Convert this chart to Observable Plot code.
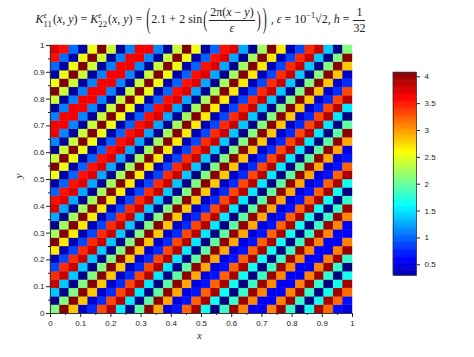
<!DOCTYPE html>
<html>
<head>
<meta charset="utf-8">
<script src="https://cdn.jsdelivr.net/npm/d3@7"></script>
<script src="https://cdn.jsdelivr.net/npm/@observablehq/plot@0.6"></script>
<style>
  html, body { margin: 0; padding: 0; background: #fff; }
  #wrap { position: relative; width: 474px; height: 357px; overflow: hidden; background: #fff; }
  #wrap svg { position: absolute; }
  #title { position: absolute; left: 0; top: 5px; width: 402px; text-align: center;
           font-family: "Liberation Serif", "DejaVu Serif", serif; font-size: 12px; color: #222; white-space: nowrap; }
  #title i { font-style: italic; }
  .ss { display: inline-block; vertical-align: -0.45em; font-size: 0.72em; line-height: 1.05; text-align: left; margin-right: 1px; }
  .ss span { display: block; }
  .frac { display: inline-flex; flex-direction: column; vertical-align: middle; text-align: center; line-height: 1.25; margin: 0 1px; }
  .frac span:first-child { border-bottom: 0.8px solid #222; padding: 0 1px; }
  .bigp { display: inline-block; transform: scale(1, 2.4); margin: 0 1px; }
  .midp { display: inline-block; transform: scale(1, 2.0); margin: 0 1px; }
  .axlab { position: absolute; font-family: "Liberation Serif", serif; font-style: italic; font-size: 11px; color: #333; }
</style>
</head>
<body>
<div id="wrap">
  <div id="title"><i>K</i><span class="ss"><span><i>ε</i></span><span>11</span></span>(<i>x</i>, <i>y</i>) = <i>K</i><span class="ss"><span><i>ε</i></span><span>22</span></span>(<i>x</i>, <i>y</i>) = <span class="bigp">(</span>2.1 + 2 sin<span class="midp">(</span><span class="frac"><span>2π(<i>x</i> − <i>y</i>)</span><span><i>ε</i></span></span><span class="midp">)</span><span class="bigp">)</span> , <i>ε</i> = 10<sup style="font-size:0.7em">−1</sup>√2, <i>h</i> = <span class="frac"><span>1</span><span>32</span></span></div>
  <div class="axlab" style="left:197px; top:329px;">x</div>
  <div class="axlab" style="left:16px; top:170px; transform: rotate(-90deg);">y</div>
</div>
<script>
// Grid: 32 x 32 cells on [0,1]^2 (h = 1/32)
const gridN = 32;
// Value of every cell on diagonal (column − row) = −31 … 31
const diagonalValues = [
  3.72, 3.55, 1.01, 0.25, 2.52, 4.10, 2.40, 0.21, 1.11, 3.63,
  3.64, 1.13, 0.20, 2.38, 4.10, 2.54, 0.26, 0.99, 3.54, 3.73,
  1.26, 0.16, 2.24, 4.09, 2.68, 0.32, 0.88, 3.43, 3.81, 1.39,
  0.13, 2.10, 4.07, 2.81, 0.39, 0.77, 3.32, 3.88, 1.52, 0.11,
  1.96, 4.04, 2.94, 0.47, 0.67, 3.21, 3.94, 1.66, 0.10, 1.82,
  4.00, 3.07, 0.56, 0.57, 3.09, 3.99, 1.80, 0.10, 1.68, 3.95,
  3.19, 0.65, 0.48
];
const axisTicks = [0, 0.1, 0.2, 0.3, 0.4, 0.5, 0.6, 0.7, 0.8, 0.9, 1];
const minorTicks = [0.05, 0.15, 0.25, 0.35, 0.45, 0.55, 0.65, 0.75, 0.85, 0.95];
const colorbarTicks = [0.5, 1, 1.5, 2, 2.5, 3, 3.5, 4];
// jet colormap stops
const jetDomain = [0.1, 0.6, 1.6, 2.6, 3.6, 4.1];
const jetColors = ["#00007f", "#0000ff", "#00ffff", "#ffff00", "#ff0000", "#7f0000"];

const cells = [];
for (let row = 0; row < gridN; row++) {
  for (let col = 0; col < gridN; col++) {
    cells.push({
      x1: col / gridN, x2: (col + 1) / gridN,
      y1: row / gridN, y2: (row + 1) / gridN,
      v: diagonalValues[col - row + gridN - 1]
    });
  }
}

const colorScale = { type: "linear", domain: jetDomain, range: jetColors, interpolate: "rgb" };
const axisStyle = { fontFamily: "'Liberation Sans', Arial, sans-serif", fontSize: "8px", color: "#222", background: "transparent" };

const main = Plot.plot({
  width: 474, height: 357,
  marginLeft: 50, marginRight: 122, marginTop: 45, marginBottom: 44,
  x: { domain: [0, 1], label: null },
  y: { domain: [0, 1], label: null },
  color: colorScale,
  style: axisStyle,
  marks: [
    Plot.rect(cells, { x1: "x1", x2: "x2", y1: "y1", y2: "y2", fill: "v", stroke: "v", strokeWidth: 0.4 }),
    Plot.axisX({ ticks: axisTicks, tickFormat: d => String(d), tickSize: 4, tickPadding: 3, label: null }),
    Plot.axisX({ ticks: minorTicks, tickSize: 2, text: null, label: null }),
    Plot.axisY({ ticks: axisTicks, tickFormat: d => String(d), tickSize: 4, tickPadding: 2, label: null }),
    Plot.axisY({ ticks: minorTicks, tickSize: 2, text: null, label: null }),
    Plot.ruleX([0], { stroke: "#333" }),
    Plot.ruleY([0], { stroke: "#333" })
  ]
});
main.style.left = "0px"; main.style.top = "0px";
document.getElementById("wrap").appendChild(main);

const cbLow = 0.3, cbHigh = 4.08, cbStep = 0.01;
const cbSteps = d3.range(cbLow, cbHigh, cbStep);
const bar = Plot.plot({
  width: 80, height: 230,
  marginLeft: 13, marginRight: 44, marginTop: 12, marginBottom: 15,
  x: { domain: [0, 1], axis: null },
  y: { domain: [cbLow, cbHigh], axis: null },
  color: colorScale,
  style: axisStyle,
  marks: [
    Plot.rect(cbSteps, { y1: d => d, y2: d => Math.min(d + cbStep, cbHigh), fill: d => d + cbStep / 2, stroke: d => d + cbStep / 2, strokeWidth: 0.5 }),
    Plot.frame({ stroke: "#333", strokeWidth: 0.8 }),
    Plot.axisY({ anchor: "right", ticks: colorbarTicks, tickFormat: d => String(d), tickSize: 3, tickPadding: 5, label: null })
  ]
});
bar.style.left = "380px"; bar.style.top = "60px";
document.getElementById("wrap").appendChild(bar);
</script>
</body>
</html>
